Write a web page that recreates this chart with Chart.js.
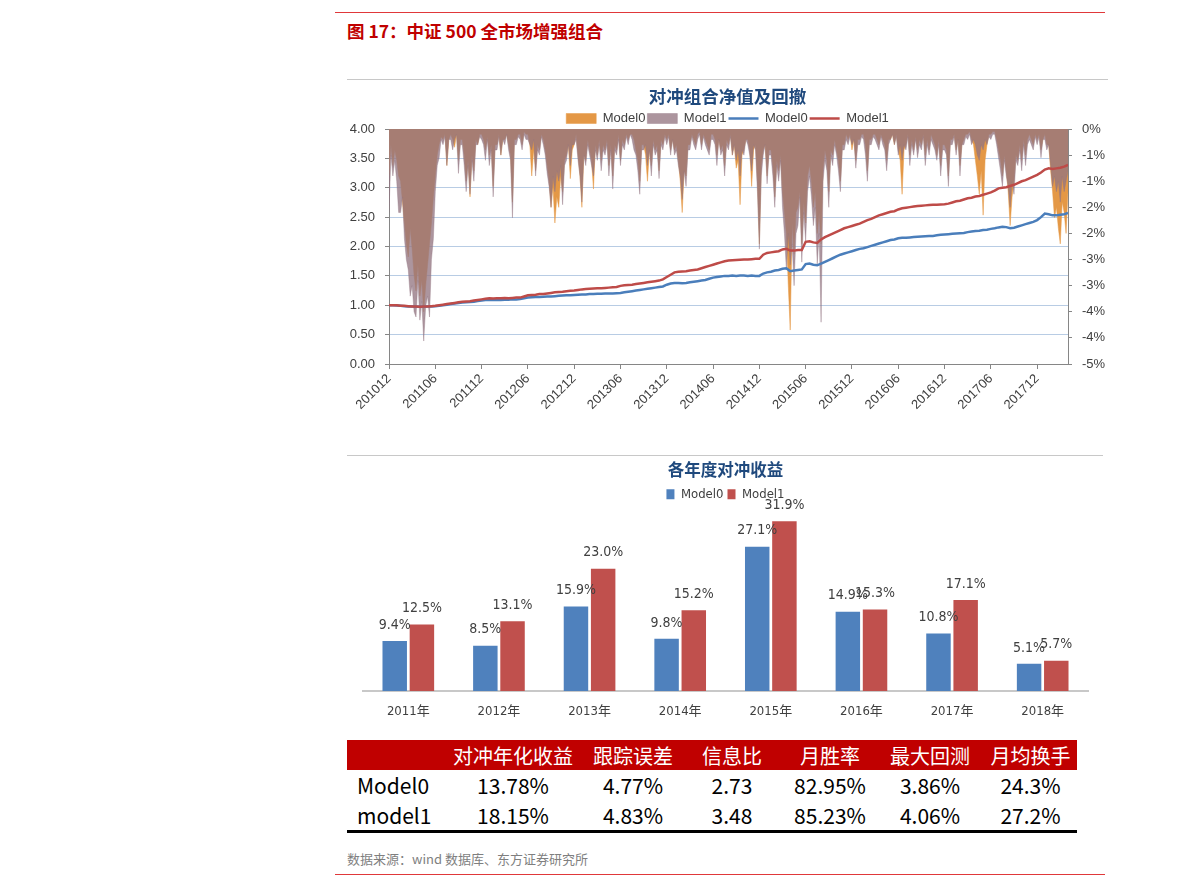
<!DOCTYPE html>
<html>
<head>
<meta charset="utf-8">
<script src="https://cdn.jsdelivr.net/npm/chart.js@4.4.1/dist/chart.umd.min.js"></script>
<style>
  body { margin: 0; background: #fff; font-family: "Noto Sans CJK SC", "Liberation Sans", sans-serif; }
  .page { position: relative; width: 1191px; height: 886px; overflow: hidden; }
  .rule { position: absolute; height: 0; }
  .fig-title { position: absolute; left: 347px; top: 18px; font-size: 17.5px; font-weight: bold; color: #C00000; white-space: nowrap; }
  .box { position: absolute; }
  table.stats { position: absolute; left: 347px; top: 740px; border-collapse: collapse; table-layout: fixed; width: 730px; }
  table.stats th { background: #C00000; color: #fff; font-weight: normal; font-size: 20px; height: 30px; padding: 0; text-align: center; }
  table.stats td { font-size: 21px; height: 29px; padding: 0; text-align: center; color: #000; }
  table.stats td.name { text-align: left; padding-left: 10px; }
  table.stats tr.last td { border-bottom: 3px solid #000; }
  .source { position: absolute; left: 347px; top: 849px; font-size: 13px; color: #7f7f7f; white-space: nowrap; }
</style>
</head>
<body>
<div class="page">
  <div class="rule" style="left:335px;top:12px;width:770px;border-top:1.5px solid #E0383A;"></div>
  <div class="fig-title">图 17：中证 500 全市场增强组合</div>
  <div class="rule" style="left:347px;top:79px;width:761px;border-top:1px solid #C8C8C8;"></div>
  <div class="box" style="left:345px;top:84px;width:765px;height:370px;"><canvas id="navChart" width="765" height="370"></canvas></div>
  <div class="rule" style="left:347px;top:455px;width:756px;border-top:1px solid #C8C8C8;"></div>
  <div class="box" style="left:345px;top:458px;width:760px;height:262px;"><canvas id="yearChart" width="760" height="262"></canvas></div>

  <table class="stats">
    <colgroup>
      <col style="width:93px"><col style="width:146px"><col style="width:94px"><col style="width:104px">
      <col style="width:92px"><col style="width:108px"><col style="width:93px">
    </colgroup>
    <tr><th></th><th>对冲年化收益</th><th>跟踪误差</th><th>信息比</th><th>月胜率</th><th>最大回测</th><th>月均换手</th></tr>
    <tr><td class="name">Model0</td><td>13.78%</td><td>4.77%</td><td>2.73</td><td>82.95%</td><td>3.86%</td><td>24.3%</td></tr>
    <tr class="last"><td class="name">model1</td><td>18.15%</td><td>4.83%</td><td>3.48</td><td>85.23%</td><td>4.06%</td><td>27.2%</td></tr>
  </table>

  <div class="source">数据来源：wind 数据库、东方证券研究所</div>
  <div class="rule" style="left:335px;top:874px;width:770px;border-top:1.5px solid #E0383A;"></div>
</div>

<script>
// 净值曲线，每半个月一个点，从 201012 开始
const NAV_STEP = 0.5;
const model0Nav = [
  1.00, 1.00, 0.995, 0.99, 0.985, 0.98, 0.98, 0.975, 0.975, 0.975, 0.98, 0.98,
  0.985, 0.99, 1.00, 1.01, 1.02, 1.03, 1.04, 1.045, 1.05, 1.055, 1.06, 1.07,
  1.08, 1.09, 1.09, 1.09, 1.095, 1.09, 1.095, 1.095, 1.10, 1.10, 1.105, 1.12,
  1.13, 1.135, 1.14, 1.14, 1.145, 1.15, 1.15, 1.155, 1.16, 1.165, 1.17, 1.17,
  1.175, 1.18, 1.185, 1.185, 1.19, 1.19, 1.195, 1.195, 1.20, 1.20, 1.20, 1.205,
  1.21, 1.22, 1.23, 1.24, 1.25, 1.26, 1.27, 1.28, 1.29, 1.30, 1.31, 1.32,
  1.35, 1.37, 1.38, 1.38, 1.375, 1.38, 1.39, 1.40, 1.41, 1.42, 1.43, 1.45,
  1.47, 1.48, 1.49, 1.50, 1.50, 1.505, 1.50, 1.505, 1.505, 1.50, 1.505, 1.50,
  1.50, 1.54, 1.56, 1.57, 1.59, 1.60, 1.62, 1.63, 1.58, 1.59, 1.60, 1.61,
  1.70, 1.71, 1.69, 1.68, 1.71, 1.74, 1.77, 1.80, 1.83, 1.86, 1.88, 1.90,
  1.92, 1.94, 1.96, 1.97, 1.99, 2.01, 2.03, 2.05, 2.07, 2.09, 2.11, 2.12,
  2.14, 2.15, 2.15, 2.155, 2.16, 2.165, 2.17, 2.175, 2.18, 2.18, 2.19, 2.20,
  2.205, 2.21, 2.215, 2.22, 2.225, 2.23, 2.245, 2.255, 2.265, 2.27, 2.28, 2.285,
  2.30, 2.31, 2.325, 2.335, 2.33, 2.31, 2.32, 2.34, 2.36, 2.38, 2.40, 2.42,
  2.45, 2.50, 2.56, 2.55, 2.53, 2.53, 2.54, 2.55, 2.57
];
const model1Nav = [
  1.00, 1.00, 1.00, 0.99, 0.99, 0.985, 0.98, 0.98, 0.975, 0.98, 0.98, 0.985,
  0.99, 1.00, 1.01, 1.02, 1.03, 1.04, 1.05, 1.06, 1.065, 1.07, 1.08, 1.09,
  1.10, 1.11, 1.12, 1.115, 1.12, 1.12, 1.125, 1.12, 1.125, 1.13, 1.13, 1.15,
  1.17, 1.175, 1.18, 1.19, 1.19, 1.20, 1.21, 1.22, 1.225, 1.23, 1.24, 1.245,
  1.25, 1.26, 1.27, 1.275, 1.28, 1.285, 1.29, 1.29, 1.295, 1.30, 1.305, 1.31,
  1.33, 1.34, 1.345, 1.35, 1.36, 1.37, 1.38, 1.39, 1.40, 1.41, 1.42, 1.44,
  1.48, 1.52, 1.56, 1.57, 1.575, 1.58, 1.59, 1.60, 1.61, 1.63, 1.65, 1.67,
  1.69, 1.71, 1.73, 1.75, 1.76, 1.765, 1.77, 1.775, 1.78, 1.78, 1.785, 1.79,
  1.79, 1.86, 1.89, 1.90, 1.91, 1.92, 1.95, 1.96, 1.93, 1.93, 1.94, 1.94,
  2.08, 2.09, 2.07, 2.06, 2.12, 2.16, 2.19, 2.22, 2.25, 2.28, 2.31, 2.33,
  2.35, 2.37, 2.39, 2.42, 2.45, 2.47, 2.50, 2.53, 2.55, 2.57, 2.59, 2.60,
  2.63, 2.65, 2.66, 2.67, 2.68, 2.69, 2.695, 2.70, 2.705, 2.71, 2.71, 2.715,
  2.72, 2.73, 2.75, 2.77, 2.78, 2.80, 2.82, 2.83, 2.85, 2.86, 2.88, 2.90,
  2.92, 2.95, 2.99, 3.00, 3.01, 3.03, 3.05, 3.08, 3.11, 3.13, 3.16, 3.19,
  3.22, 3.26, 3.31, 3.33, 3.32, 3.33, 3.34, 3.36, 3.39
];
// 回撤深度（%），每 1/4 个月一个点，右轴向下画
const DD_STEP = 0.25;
const model0Drawdown = [
  0.9, 0.3, 0.7, 0.4, 0.6, 0.9, 1.0, 1.4, 1.8, 2.2, 2.45, 1.9, 2.3, 2.8, 3.1, 2.6, 3.2, 2.9, 3.5, 3.0, 2.6, 2.2, 1.8, 1.3,
  0.9, 0.5, 0.3, 0.15, 0.2, 0.1, 0.7, 0.2, 0.1, 0.2, 0.35, 0.1, 0.6, 0.2, 0.2, 0.5, 1.0, 0.6, 1.3, 0.5, 0.8, 0.2, 0.3, 0.1,
  0.1, 0.2, 0.4, 0.15, 0.5, 0.3, 1.1, 0.3, 0.3, 0.1, 0.5, 0.2, 0.2, 0.1, 0.3, 0.5, 1.4, 0.2, 0.2, 0.1, 0.1, 0.3, 0.05, 0.1,
  0.1, 0.3, 0.9, 0.4, 0.8, 0.3, 0.4, 0.1, 0.2, 0.4, 0.7, 1.0, 1.5, 1.1, 1.8, 1.3, 1.5, 0.9, 1.2, 0.6, 0.5, 0.3, 0.95, 0.4,
  0.3, 0.1, 0.5, 0.9, 1.5, 0.5, 0.6, 0.2, 0.4, 0.6, 1.15, 0.3, 0.5, 0.2, 0.6, 0.3, 0.4, 0.2, 0.7, 0.3, 0.9, 0.3, 0.4, 0.1,
  0.6, 0.2, 0.3, 0.1, 0.2, 0.1, 0.1, 0.2, 0.4, 0.6, 1.0, 0.3, 0.3, 0.5, 1.0, 0.4, 0.7, 0.2, 0.4, 0.3, 0.8, 0.2, 0.3, 0.1,
  0.2, 0.1, 0.4, 0.2, 0.4, 0.3, 0.6, 1.0, 1.6, 0.8, 0.9, 0.3, 0.3, 0.1, 0.2, 0.3, 0.1, 0.05, 0.3, 0.1, 0.2, 0.3, 0.4, 0.1,
  0.1, 0.2, 0.5, 0.2, 0.4, 0.3, 0.7, 0.2, 0.3, 0.1, 0.5, 0.3, 0.75, 0.6, 1.45, 0.5, 0.4, 0.2, 0.2, 0.4, 1.1, 0.4, 0.3, 1.0,
  2.2, 0.7, 0.4, 0.3, 0.9, 0.4, 0.4, 0.7, 1.3, 0.6, 0.8, 0.5, 1.2, 1.6, 2.0, 3.0, 3.85, 1.8, 2.4, 1.6, 1.5, 1.2, 2.2, 1.4,
  1.8, 0.9, 0.7, 1.0, 1.5, 1.2, 2.0, 1.6, 2.2, 0.8, 0.4, 0.6, 1.2, 0.4, 0.5, 0.2, 0.4, 0.6, 1.0, 0.3, 0.3, 0.1, 0.2, 0.1,
  0.4, 0.2, 0.6, 0.2, 0.2, 0.1, 0.1, 0.3, 0.8, 0.2, 0.2, 0.1, 0.1, 0.2, 0.3, 0.1, 0.2, 0.3, 0.6, 0.2, 0.2, 0.1, 0.3, 0.1,
  0.4, 0.6, 1.25, 0.4, 0.3, 0.1, 0.5, 0.2, 0.4, 0.15, 0.4, 0.2, 0.3, 0.1, 0.5, 0.2, 0.4, 0.1, 0.2, 0.3, 0.5, 0.2, 0.7, 0.3,
  0.3, 0.4, 0.9, 0.2, 0.2, 0.1, 0.4, 0.2, 0.7, 0.3, 0.2, 0.1, 0.1, 0.05, 0.2, 0.3, 0.6, 0.9, 1.25, 0.8, 1.65, 0.6, 0.3, 0.1,
  0.1, 0.05, 0.05, 0.2, 0.4, 0.6, 0.9, 0.5, 0.8, 1.2, 1.85, 1.3, 1.0, 0.5, 0.6, 0.3, 0.6, 0.2, 0.5, 0.2, 0.1, 0.2, 0.3, 0.1,
  0.2, 0.1, 0.4, 0.2, 0.1, 0.3, 0.3, 0.8, 1.2, 1.7, 1.5, 1.9, 2.2, 1.4, 1.6, 2.0, 1.2
];
const model1Drawdown = [
  1.6, 0.5, 0.9, 0.6, 1.0, 1.6, 1.6, 1.3, 2.1, 2.5, 2.7, 3.2, 3.0, 3.5, 3.6, 2.9, 3.66, 3.3, 4.06, 3.4, 3.2, 3.6, 2.5, 2.1,
  1.2, 0.7, 0.55, 0.2, 0.3, 0.15, 0.7, 0.2, 0.2, 0.4, 0.2, 0.1, 0.85, 0.3, 0.3, 0.7, 1.2, 0.7, 1.25, 0.6, 1.0, 0.3, 0.3, 0.15,
  0.2, 0.3, 0.6, 0.2, 0.7, 0.4, 1.3, 0.4, 0.4, 0.15, 0.5, 0.2, 0.3, 0.1, 0.4, 0.6, 1.7, 0.3, 0.3, 0.15, 0.2, 0.4, 0.1, 0.2,
  0.2, 0.3, 0.4, 0.2, 0.9, 0.4, 0.5, 0.15, 0.3, 0.5, 0.85, 1.1, 1.5, 0.9, 1.2, 0.8, 1.0, 0.7, 1.45, 0.7, 0.6, 0.3, 0.7, 0.3,
  0.3, 0.2, 0.6, 0.9, 1.4, 0.5, 0.7, 0.3, 0.5, 0.7, 0.9, 0.4, 0.6, 0.3, 0.8, 0.4, 0.5, 0.3, 0.9, 0.4, 1.15, 0.4, 0.5, 0.2,
  0.7, 0.3, 0.4, 0.15, 0.3, 0.1, 0.2, 0.4, 0.5, 0.8, 1.25, 0.4, 0.4, 0.3, 0.7, 0.4, 0.9, 0.3, 0.5, 0.4, 0.95, 0.3, 0.4, 0.15,
  0.3, 0.15, 0.5, 0.2, 0.5, 0.4, 0.7, 0.9, 1.35, 0.8, 1.1, 0.4, 0.4, 0.15, 0.3, 0.4, 0.2, 0.1, 0.4, 0.15, 0.3, 0.4, 0.5, 0.2,
  0.2, 0.3, 0.7, 0.2, 0.5, 0.4, 0.9, 0.3, 0.4, 0.15, 0.5, 0.3, 0.6, 0.4, 0.9, 0.4, 0.5, 0.2, 0.3, 0.5, 0.8, 0.3, 0.4, 1.2,
  2.3, 0.9, 0.5, 0.3, 1.05, 0.5, 0.5, 0.9, 1.5, 0.7, 1.0, 0.6, 1.5, 2.0, 2.7, 2.0, 2.6, 2.2, 3.0, 2.0, 1.85, 1.3, 2.55, 1.6,
  2.15, 1.2, 0.9, 1.3, 1.85, 1.5, 2.6, 2.0, 3.7, 1.0, 0.6, 0.8, 1.5, 0.5, 0.7, 0.3, 0.5, 0.8, 1.2, 0.4, 0.4, 0.2, 0.3, 0.15,
  0.3, 0.2, 0.75, 0.3, 0.3, 0.15, 0.2, 0.5, 1.0, 0.3, 0.3, 0.15, 0.2, 0.3, 0.4, 0.15, 0.3, 0.4, 0.8, 0.3, 0.2, 0.1, 0.3, 0.15,
  0.5, 0.3, 0.6, 0.3, 0.4, 0.15, 0.7, 0.3, 0.5, 0.2, 0.55, 0.3, 0.4, 0.15, 0.7, 0.3, 0.5, 0.2, 0.3, 0.4, 0.6, 0.3, 0.9, 0.4,
  0.4, 0.5, 1.1, 0.3, 0.3, 0.15, 0.5, 0.2, 0.9, 0.3, 0.3, 0.15, 0.2, 0.1, 0.3, 0.2, 0.3, 0.5, 0.6, 0.3, 0.4, 0.2, 0.3, 0.15,
  0.2, 0.1, 0.1, 0.3, 0.55, 0.8, 1.1, 0.6, 0.9, 1.1, 1.5, 1.0, 1.25, 0.6, 0.7, 0.4, 0.8, 0.3, 0.7, 0.3, 0.2, 0.3, 0.4, 0.15,
  0.3, 0.15, 0.55, 0.2, 0.2, 0.4, 0.3, 0.7, 1.1, 0.9, 1.2, 1.0, 1.4, 0.9, 1.2, 1.0, 0.8
];
const xTickMonths = [0, 6, 12, 18, 24, 30, 36, 42, 48, 54, 60, 66, 72, 78, 84];
const xTickLabels = ['201012', '201106', '201112', '201206', '201212', '201306', '201312', '201406',
  '201412', '201506', '201512', '201606', '201612', '201706', '201712'];

// 各年度对冲收益（%）
const years = ['2011年', '2012年', '2013年', '2014年', '2015年', '2016年', '2017年', '2018年'];
const model0Yearly = [9.4, 8.5, 15.9, 9.8, 27.1, 14.9, 10.8, 5.1];
const model1Yearly = [12.5, 13.1, 23.0, 15.2, 31.9, 15.3, 17.1, 5.7];

const FONT = '"Liberation Sans", "Noto Sans CJK SC", sans-serif';
const NARROW = '"Liberation Sans Narrow", "DejaVu Sans Condensed", "Liberation Sans", "Noto Sans CJK SC", sans-serif';
const CJK = '"Noto Sans CJK SC", sans-serif';
Chart.defaults.font.family = FONT;
Chart.defaults.color = '#404040';

const toPoints = (arr, step) => arr.map((v, i) => ({ x: i * step, y: v }));
const axisGray = '#868686';
const orange = 'rgb(228,152,70)';
const mauve = 'rgba(147,117,129,0.77)';

new Chart(document.getElementById('navChart'), {
  type: 'line',
  data: {
    datasets: [
      { label: 'Model0', data: toPoints(model0Drawdown, DD_STEP), yAxisID: 'yDd', fill: 'origin',
        backgroundColor: orange, borderColor: orange, borderWidth: 0.5,
        pointRadius: 0, pointStyle: 'rect', order: 4 },
      { label: 'Model1', data: toPoints(model1Drawdown, DD_STEP), yAxisID: 'yDd', fill: 'origin',
        backgroundColor: mauve, borderColor: mauve, borderWidth: 0.5,
        pointRadius: 0, pointStyle: 'rect', order: 3 },
      { label: 'Model0', data: toPoints(model0Nav, NAV_STEP), yAxisID: 'yNav', fill: false,
        borderColor: '#4A7EBB', backgroundColor: '#4A7EBB', borderWidth: 2.5,
        pointRadius: 0, pointStyle: 'line', order: 2 },
      { label: 'Model1', data: toPoints(model1Nav, NAV_STEP), yAxisID: 'yNav', fill: false,
        borderColor: '#BE4B48', backgroundColor: '#BE4B48', borderWidth: 2.5,
        pointRadius: 0, pointStyle: 'line', order: 1 }
    ]
  },
  options: {
    responsive: false,
    animation: false,
    devicePixelRatio: 1,
    plugins: {
      title: { display: true, text: '对冲组合净值及回撤', color: '#1F497D',
        font: { family: CJK, size: 17.5, weight: 'bold' }, padding: { top: 2, bottom: 3 } },
      legend: {
        maxHeight: 19,
        labels: { usePointStyle: true, pointStyleWidth: 30, boxHeight: 10, padding: 2,
          font: { size: 13 }, color: '#404040',
          sort: (a, b) => a.datasetIndex - b.datasetIndex }
      },
      tooltip: { enabled: false }
    },
    scales: {
      x: {
        type: 'linear', min: 0, max: 88,
        afterBuildTicks: s => { s.ticks = xTickMonths.map(v => ({ value: v })); },
        afterFit: s => { s.height = 90; },
        grid: { drawOnChartArea: false, tickLength: 5, tickColor: axisGray },
        border: { color: axisGray },
        ticks: { autoSkip: false, minRotation: 45, maxRotation: 45, padding: 2, font: { size: 13 },
          callback: v => xTickLabels[xTickMonths.indexOf(v)] }
      },
      yNav: {
        position: 'left', min: 0, max: 4,
        afterFit: s => { s.width = 44; },
        grid: { color: '#B8CCE4', tickColor: axisGray, tickLength: 4 },
        border: { color: axisGray },
        ticks: { stepSize: 0.5, padding: 10, font: { size: 13 }, callback: v => v.toFixed(2) }
      },
      yDd: {
        position: 'right', min: 0, max: 4.5, reverse: true,
        afterFit: s => { s.width = 42; },
        grid: { drawOnChartArea: false, tickColor: axisGray, tickLength: 4 },
        border: { color: axisGray },
        ticks: { stepSize: 0.5, padding: 10, font: { size: 13 },
          callback: v => (v === 0 ? '0%' : '-' + Math.round(v) + '%') }
      }
    }
  }
});

const barLabels = {
  id: 'barLabels',
  afterDatasetsDraw(chart) {
    const ctx = chart.ctx;
    ctx.save();
    ctx.font = '14px ' + NARROW;
    ctx.fillStyle = '#404040';
    ctx.textAlign = 'center';
    ctx.textBaseline = 'middle';
    chart.data.datasets.forEach((ds, i) => {
      chart.getDatasetMeta(i).data.forEach((bar, j) => {
        ctx.fillText(ds.data[j].toFixed(1) + '%', bar.x, bar.y - 16);
      });
    });
    ctx.restore();
  }
};

new Chart(document.getElementById('yearChart'), {
  type: 'bar',
  data: {
    labels: years,
    datasets: [
      { label: 'Model0', data: model0Yearly, backgroundColor: '#4F81BD' },
      { label: 'Model1', data: model1Yearly, backgroundColor: '#C0504D' }
    ]
  },
  options: {
    responsive: false,
    animation: false,
    devicePixelRatio: 1,
    layout: { padding: { left: 18, right: 17 } },
    datasets: { bar: { categoryPercentage: 0.6, barPercentage: 0.9 } },
    plugins: {
      title: { display: true, text: '各年度对冲收益', color: '#1F497D',
        font: { family: CJK, size: 16.5, weight: 'bold' }, padding: { top: 2, bottom: 4 } },
      legend: {
        maxHeight: 21,
        labels: { boxWidth: 8, boxHeight: 10, padding: 4, font: { size: 13, family: NARROW }, color: '#404040' }
      },
      tooltip: { enabled: false }
    },
    scales: {
      x: {
        afterFit: s => { s.height = 29; },
        grid: { display: false, drawTicks: false },
        border: { color: '#C8C8C8', width: 2 },
        ticks: { padding: 13, font: { size: 13, family: NARROW }, color: '#404040' }
      },
      y: { display: false, min: 0, max: 35 }
    }
  },
  plugins: [barLabels]
});
</script>
</body>
</html>
